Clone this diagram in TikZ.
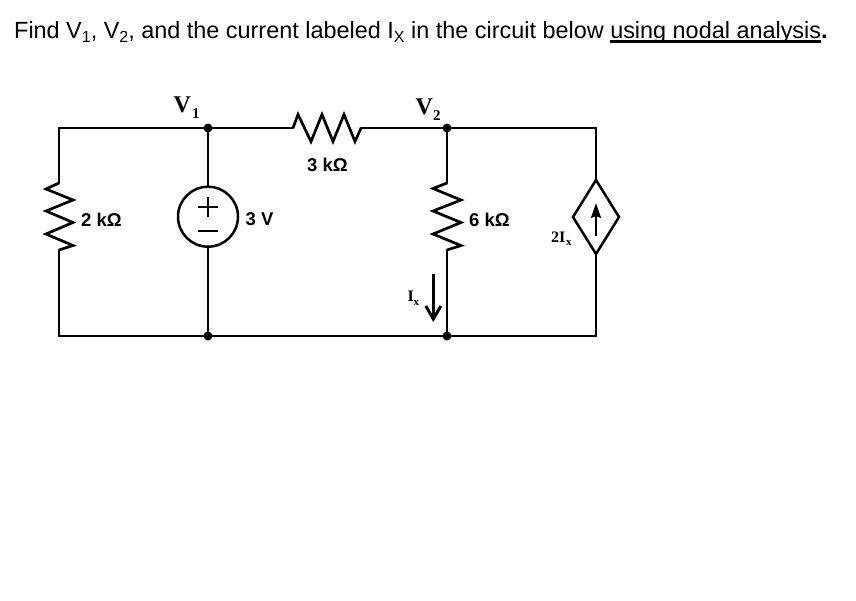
\documentclass[tikz,border=0pt]{standalone}
\usepackage{fontspec}
\setmainfont{Liberation Sans}
\newfontfamily\serifb[BoldFont={Liberation Serif Bold}]{Liberation Serif}
\usetikzlibrary{arrows.meta,shapes.geometric}
\newcommand{\tsub}[1]{\raisebox{-0.2em}{\fontsize{16}{17}\selectfont #1}}
\newcommand{\ulin}[1]{\setbox0\hbox{#1}\rlap{\raisebox{-4.8pt}{\rule{\wd0}{2.4pt}}}\box0}
\newcommand{\svar}[2]{{\fontsize{#1}{#1}\selectfont\serifb\bfseries #2}}
\tikzset{
  wire/.style={line width=2.7pt,black,line cap=round,line join=miter},
  junction/.style={circle,fill=black,inner sep=0pt,minimum size=9pt},
  valuelabel/.style={font=\fontsize{18.5}{20}\selectfont\bfseries,inner sep=0pt,anchor=center},
  nodelabel/.style={inner sep=0pt,anchor=base west},
  vsource/.style={circle,draw=black,line width=2.5pt,fill=white,minimum size=60pt,inner sep=0pt,outer sep=0pt},
  depsource/.style={diamond,draw=black,line width=2.5pt,fill=white,aspect=0.62,minimum height=74pt,minimum width=46pt,inner sep=0pt,outer sep=0pt},
}
\begin{document}
\begin{tikzpicture}[x=1pt,y=-1pt]
\useasboundingbox (0,0) rectangle (856,600);
\fill[white] (0,0) rectangle (856,600);

\node[nodelabel] (title) at (14,38) {\fontsize{23.42}{26}\selectfont Find V\tsub{1}, V\tsub{2}, and the current labeled I\tsub{X} in the circuit below \ulin{using nodal analysis}\textbf{.}};

% nodes
\coordinate (tl) at (59,128);
\coordinate (bl) at (59,336);
\coordinate (tr) at (596,128);
\coordinate (br) at (596,336);
\node[junction] (v1) at (208,128) {};
\node[junction] (v2) at (447,128) {};
\node[junction] (b1) at (208,336) {};
\node[junction] (b2) at (447,336) {};
\coordinate (r2a) at (59,183);
\coordinate (r2b) at (59,250);
\coordinate (r6a) at (447,183);
\coordinate (r6b) at (447,250);
\coordinate (r3a) at (293,128);
\coordinate (r3b) at (361,128);
\node[vsource] (vs) at (208,216.7) {};
\node[depsource] (cs) at (596,217) {};

% wires
\draw[wire] (r2a) -- (tl) -- (v1) -- (r3a);
\draw[wire] (r3b) -- (v2) -- (tr) -- (cs.north);
\draw[wire] (cs.south) -- (br) -- (b2) -- (b1) -- (bl) -- (r2b);
\draw[wire] (v1) -- (vs.north);
\draw[wire] (vs.south) -- (b1);
\draw[wire] (v2) -- (r6a);
\draw[wire] (r6b) -- (b2);

% resistors
\draw[wire,line cap=butt] (r2a) -- ++(-13,6) -- ++(27,11) -- ++(-27,11) -- ++(27,11.5) -- ++(-27,11.5) -- ++(27,11.5) -- (r2b);
\draw[wire,line cap=butt] (r6a) -- ++(-14,5.5) -- ++(28,11.5) -- ++(-28,11) -- ++(28,11.5) -- ++(-28,11.5) -- ++(28,11.5) -- (r6b);
\draw[wire,line cap=butt] (r3a) -- (298,114.5) -- (311,141.5) -- (322,114.5) -- (333,141.5) -- (344,114.5) -- (355,141.5) -- (r3b);

% source symbols
\coordinate (plusc) at (208,207);
\coordinate (minusc) at (208,230.7);
\draw[line width=2.2pt] ([xshift=-10pt]plusc) -- ([xshift=10pt]plusc) ([yshift=-10pt]plusc) -- ([yshift=10pt]plusc);
\draw[line width=2.2pt] ([xshift=-10pt]minusc) -- ([xshift=10pt]minusc);
\coordinate (csa) at (596,236);
\coordinate (csb) at (596,203);
\draw[line width=2.2pt,-{Stealth[length=15pt,width=10pt,inset=2pt]}] (csa) -- (csb);

% Ix arrow
\coordinate (ixa) at (433.3,274);
\coordinate (ixb) at (433.3,322);
\draw[line width=3pt,-{Straight Barb[length=13pt,width=15pt,line width=3pt]}] (ixa) -- (ixb);

% value labels
\node[valuelabel] (l2k) at (101.5,220) {2 kΩ};
\node[valuelabel] (l3v) at (259.5,219.5) {3 V};
\node[valuelabel] (l3k) at (327.5,164.5) {3 kΩ};
\node[valuelabel] (l6k) at (489.5,219.5) {6 kΩ};

% variable labels
\node[nodelabel] (lv1) at (173.5,112) {\svar{24}{V}};
\node[nodelabel] (lv1s) at (192,118.5) {\svar{15}{1}};
\node[nodelabel] (lv2) at (415.5,114) {\svar{24}{V}};
\node[nodelabel] (lv2s) at (433,120.5) {\svar{15}{2}};
\node[nodelabel] (l2i) at (551,242.5) {\svar{16}{2I}};
\node[nodelabel] (l2is) at (566,245) {\svar{11}{x}};
\node[nodelabel] (lix) at (407.5,301.5) {\svar{16}{I}};
\node[nodelabel] (lixs) at (413.5,305) {\svar{11}{x}};
\end{tikzpicture}
\end{document}
